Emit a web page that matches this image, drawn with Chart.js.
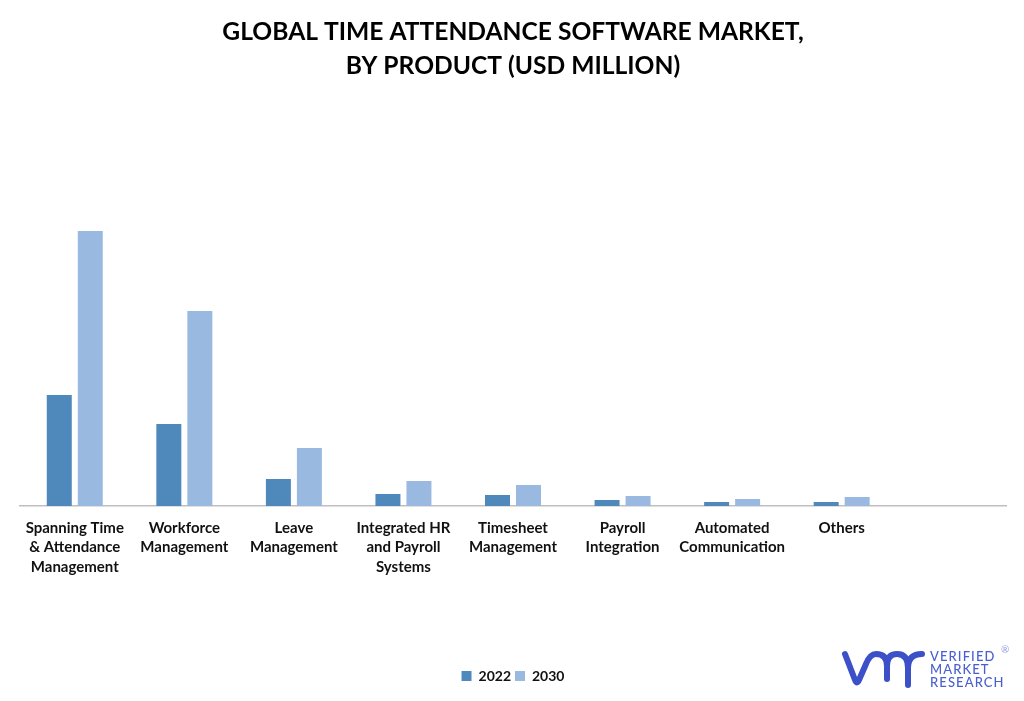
<!DOCTYPE html>
<html>
<head>
<meta charset="utf-8">
<script src="https://cdn.jsdelivr.net/npm/chart.js@4"></script>
<style>
  html, body { margin: 0; padding: 0; background: #fff; }
  #wrap { position: relative; width: 1024px; height: 701px; overflow: hidden; }
  #logo { position: absolute; left: 838px; top: 645px; }
  #logoText { position: absolute; left: 930px; top: 650px; color: #4a5fd0; font: 500 13px/13px Lato, sans-serif; letter-spacing: 1.1px; }
  #reg { position: absolute; left: 1001px; top: 643px; color: #8e9be0; font: 10px Lato, sans-serif; }
</style>
</head>
<body>
<div id="wrap">
  <canvas id="marketChart" width="1024" height="701"></canvas>
  <svg id="logo" width="92" height="46" viewBox="838 645 92 46">
    <path d="M845 654 L855 680 Q857 685 859 680 L866 664 Q870 654 876 654 Q887 654 887 666 L887 679 M887 666 Q887 654 897 654 Q908 654 908 668 L908 685 M908 668 Q908 654 922 654" fill="none" stroke="#3c50c8" stroke-width="6" stroke-linecap="round"/>
  </svg>
  <div id="logoText">VERIFIED<br>MARKET<br>RESEARCH</div>
  <div id="reg">®</div>
</div>
<script>
const titleLines = ['GLOBAL TIME ATTENDANCE SOFTWARE MARKET,', 'BY PRODUCT (USD MILLION)'];
const categories = [
    ['Spanning Time', '& Attendance', 'Management'],
    ['Workforce', 'Management'],
    ['Leave', 'Management'],
    ['Integrated HR', 'and Payroll', 'Systems'],
    ['Timesheet', 'Management'],
    ['Payroll', 'Integration'],
    ['Automated', 'Communication'],
    'Others',
    ''
];
const values2022 = [111, 82, 27, 12, 11, 6, 4, 4, null];
const values2030 = [275, 195, 58, 25, 21, 10, 7, 9, null];
const yMax = 403;

const ctx = document.getElementById('marketChart').getContext('2d');

new Chart(ctx, {
    type: 'bar',
    data: {
        labels: categories,
        datasets: [{
            label: '2022',
            data: values2022,
            backgroundColor: '#4f88bb',
            categoryPercentage: 0.566,
            barPercentage: 0.806
        }, {
            label: '2030',
            data: values2030,
            backgroundColor: '#99b9e0',
            categoryPercentage: 0.566,
            barPercentage: 0.806
        }]
    },
    options: {
        responsive: false,
        animation: false,
        layout: { padding: { left: 20, right: 18, top: 15, bottom: 8 } },
        plugins: {
            title: {
                display: true,
                text: titleLines,
                color: '#000',
                font: { family: 'Lato', size: 24.6, weight: 'bold', lineHeight: 1.38 },
                padding: { top: 0, bottom: 20 }
            },
            legend: {
                position: 'bottom',
                labels: {
                    boxWidth: 10,
                    boxHeight: 10,
                    color: '#111',
                    padding: 4,
                    font: { family: 'Lato', size: 14, weight: 'bold' }
                }
            },
            tooltip: { enabled: false }
        },
        scales: {
            x: {
                grid: { display: false, drawTicks: false },
                border: { color: '#bfbfbf', width: 1.5 },
                ticks: {
                    color: '#111',
                    maxRotation: 0,
                    autoSkip: false,
                    padding: 12,
                    font: { family: 'Lato', size: 15, weight: 'bold', lineHeight: 1.3 }
                },
                afterFit: scale => { scale.height = 159; }
            },
            y: {
                display: false,
                min: 0,
                max: yMax
            }
        }
    }
});
</script>
</body>
</html>
